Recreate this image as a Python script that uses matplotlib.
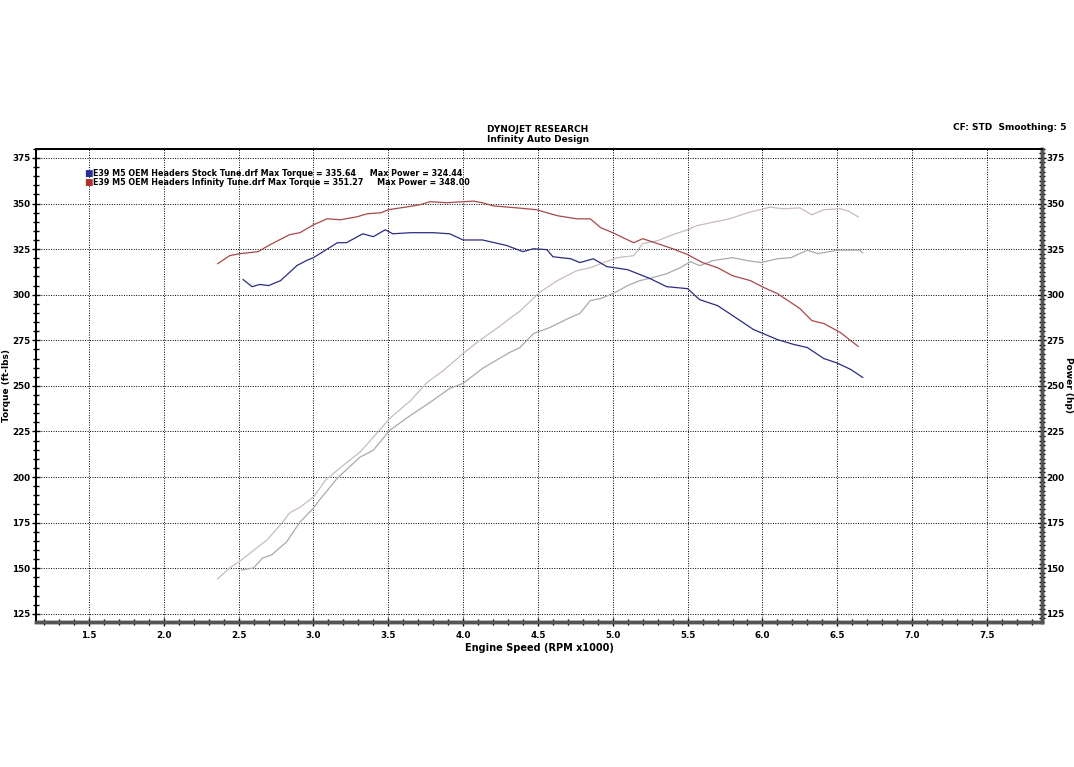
import matplotlib.pyplot as plt
from matplotlib.ticker import MultipleLocator

# Dyno run data (RPM x1000)
stock_tq_rpm = [2.53, 2.59, 2.64, 2.70, 2.78, 2.89, 2.96, 3.00, 3.16, 3.22, 3.33, 3.40, 3.48, 3.53,
                3.65, 3.80, 3.91, 4.00, 4.13, 4.29, 4.40, 4.47, 4.56, 4.60, 4.72, 4.78, 4.87, 4.96,
                5.10, 5.25, 5.36, 5.50, 5.58, 5.70, 5.80, 5.94, 6.10, 6.21, 6.30, 6.41, 6.50, 6.59, 6.67]
stock_tq = [308.3, 304.4, 305.6, 305.0, 307.7, 316.0, 319.0, 320.3, 328.5, 328.5, 333.4, 331.8, 335.6, 333.4,
            334.0, 334.0, 333.4, 330.0, 330.0, 327.0, 323.6, 325.2, 324.7, 320.8, 319.7, 317.6, 319.7, 315.4,
            313.7, 308.8, 304.4, 303.3, 297.3, 294.0, 288.6, 280.9, 275.4, 272.7, 271.0, 265.0, 262.5, 259.0, 254.6]

inf_tq_rpm = [2.36, 2.44, 2.51, 2.63, 2.71, 2.84, 2.91, 3.00, 3.09, 3.18, 3.29, 3.36, 3.45, 3.50, 3.63,
              3.71, 3.78, 3.89, 4.00, 4.07, 4.13, 4.20, 4.36, 4.49, 4.63, 4.76, 4.85, 4.92, 5.00, 5.07,
              5.14, 5.20, 5.30, 5.40, 5.50, 5.60, 5.70, 5.80, 5.92, 6.01, 6.10, 6.19, 6.25, 6.33, 6.41,
              6.52, 6.64]
inf_tq = [317.0, 321.4, 322.5, 323.6, 327.4, 332.9, 334.0, 338.3, 341.6, 341.1, 342.7, 344.4, 344.9, 346.6, 348.2,
          349.3, 351.0, 350.4, 351.0, 351.3, 350.4, 348.7, 347.6, 346.6, 343.3, 341.6, 341.6, 336.7, 334.0, 331.2,
          328.5, 330.7, 328.0, 325.2, 322.0, 317.6, 314.8, 310.4, 307.7, 303.9, 300.6, 295.7, 292.4, 285.8, 284.2,
          279.3, 271.6]

stock_hp_rpm = [2.52, 2.60, 2.66, 2.72, 2.82, 2.91, 3.00, 3.04, 3.16, 3.31, 3.40, 3.51, 3.65, 3.78, 3.91,
                4.00, 4.13, 4.31, 4.38, 4.47, 4.58, 4.70, 4.78, 4.85, 4.92, 5.00, 5.10, 5.18, 5.27, 5.36,
                5.45, 5.52, 5.58, 5.67, 5.80, 5.90, 5.99, 6.10, 6.19, 6.30, 6.37, 6.50, 6.65, 6.67]
stock_hp = [149.0, 150.2, 155.6, 157.3, 164.4, 175.3, 183.0, 187.4, 199.4, 210.9, 214.7, 225.7, 233.9, 241.0, 248.6,
            251.4, 259.6, 268.3, 271.0, 278.7, 282.0, 286.9, 289.7, 296.8, 297.9, 300.6, 305.0, 307.7, 309.4, 311.5,
            314.8, 318.1, 315.9, 318.7, 320.3, 318.7, 317.6, 319.7, 320.3, 324.4, 322.5, 324.4, 324.4, 323.0]

inf_hp_rpm = [2.36, 2.44, 2.51, 2.62, 2.69, 2.79, 2.84, 2.91, 3.00, 3.08, 3.20, 3.31, 3.43, 3.51, 3.65,
              3.76, 3.87, 4.00, 4.11, 4.25, 4.31, 4.38, 4.51, 4.63, 4.76, 4.85, 4.94, 5.03, 5.14, 5.20,
              5.30, 5.40, 5.50, 5.56, 5.65, 5.78, 5.90, 6.01, 6.05, 6.14, 6.25, 6.33, 6.41, 6.52, 6.57, 6.64]
inf_hp = [144.2, 150.2, 154.0, 161.1, 165.5, 174.8, 180.3, 183.5, 189.0, 198.3, 206.5, 213.6, 224.6, 232.2, 242.0,
          252.0, 258.5, 267.8, 274.9, 283.0, 286.9, 291.0, 301.2, 307.7, 313.2, 314.8, 317.6, 320.3, 321.4, 328.0,
          329.6, 332.9, 335.6, 337.8, 339.4, 341.6, 344.9, 347.1, 348.0, 347.1, 347.6, 343.8, 346.6, 347.1, 346.0,
          342.7]

legend_lines = [
    "E39 M5 OEM Headers Stock Tune.drf Max Torque = 335.64     Max Power = 324.44",
    "E39 M5 OEM Headers Infinity Tune.drf Max Torque = 351.27     Max Power = 348.00",
]

fig = plt.figure(figsize=(10.74, 7.67), dpi=100)
ax = fig.add_axes([0.0335, 0.189, 0.937, 0.617])

# power curves (light) first, torque on top
ax.plot(stock_hp_rpm, stock_hp, color='#a9a9b4', linewidth=0.9)
ax.plot(inf_hp_rpm, inf_hp, color='#cbbcbc', linewidth=0.9)
ax.plot(stock_tq_rpm, stock_tq, color='#2b2b80', linewidth=0.9)
ax.plot(inf_tq_rpm, inf_tq, color='#a84848', linewidth=0.9)

ax.set_xlim(1.146, 7.87)
ax.set_ylim(120.5, 380)
ax.xaxis.set_major_locator(MultipleLocator(0.5))
ax.xaxis.set_minor_locator(MultipleLocator(0.1))
ax.yaxis.set_major_locator(MultipleLocator(25))
ax.yaxis.set_minor_locator(MultipleLocator(5))
ax.grid(True, which='major', color='black', linestyle=(0, (1, 1.5)), linewidth=0.7)

ax.tick_params(which='both', direction='inout', labelsize=6.3, width=1)
ax.tick_params(which='major', length=6)
ax.tick_params(which='minor', length=4)
ax.tick_params(axis='y', pad=1)
ax.set_xticks([1.5 + 0.5 * i for i in range(13)])
ax.set_xticklabels(["%.1f" % (1.5 + 0.5 * i) for i in range(13)], fontweight='bold')
for lbl in ax.get_yticklabels():
    lbl.set_fontweight('bold')

ax2 = ax.twinx()
ax2.set_ylim(120.5, 380)
ax2.yaxis.set_major_locator(MultipleLocator(25))
ax2.yaxis.set_minor_locator(MultipleLocator(2.5))
ax2.tick_params(which='both', direction='inout', labelsize=6.3, width=1, pad=0)
ax2.tick_params(which='major', length=6)
ax2.tick_params(which='minor', length=4)
for lbl in ax2.get_yticklabels():
    lbl.set_fontweight('bold')

for a in (ax, ax2):
    for s in a.spines.values():
        s.set_linewidth(1.3)
    a.spines['bottom'].set_color('#555555')
    a.spines['bottom'].set_linewidth(2.5)
    a.spines['right'].set_color('#555555')
    a.spines['right'].set_linewidth(2.5)

ax.set_xlabel("Engine Speed (RPM x1000)", fontsize=7, fontweight='bold', labelpad=2)
fig.text(7 / 1074, 1 - 385 / 767, "Torque (ft-lbs)", fontsize=6.5, fontweight='bold',
         rotation=90, ha='center', va='center')
fig.text(1068.5 / 1074, 1 - 385 / 767, "Power (hp)", fontsize=6.5, fontweight='bold',
         rotation=-90, ha='center', va='center')

# legend with small colour boxes
for i, (txt, col) in enumerate(zip(legend_lines, ['#2b2b9a', '#b03030'])):
    y = 0.947 - i * 0.019
    ax.text(0.052, y, "\u25A0", transform=ax.transAxes, color=col, fontsize=6.5, va='center', ha='center')
    ax.text(0.057, y, txt, transform=ax.transAxes, fontsize=5.8, fontweight='bold', va='center', ha='left')

fig.text(0.501, 1 - 130 / 767, "DYNOJET RESEARCH", fontsize=6.5, fontweight='bold', ha='center', va='center')
fig.text(0.501, 1 - 140 / 767, "Infinity Auto Design", fontsize=6.5, fontweight='bold', ha='center', va='center')
fig.text(0.993, 1 - 128 / 767, "CF: STD  Smoothing: 5", fontsize=6.5, fontweight='bold', ha='right', va='center')

fig.savefig('out.png', dpi=100)
